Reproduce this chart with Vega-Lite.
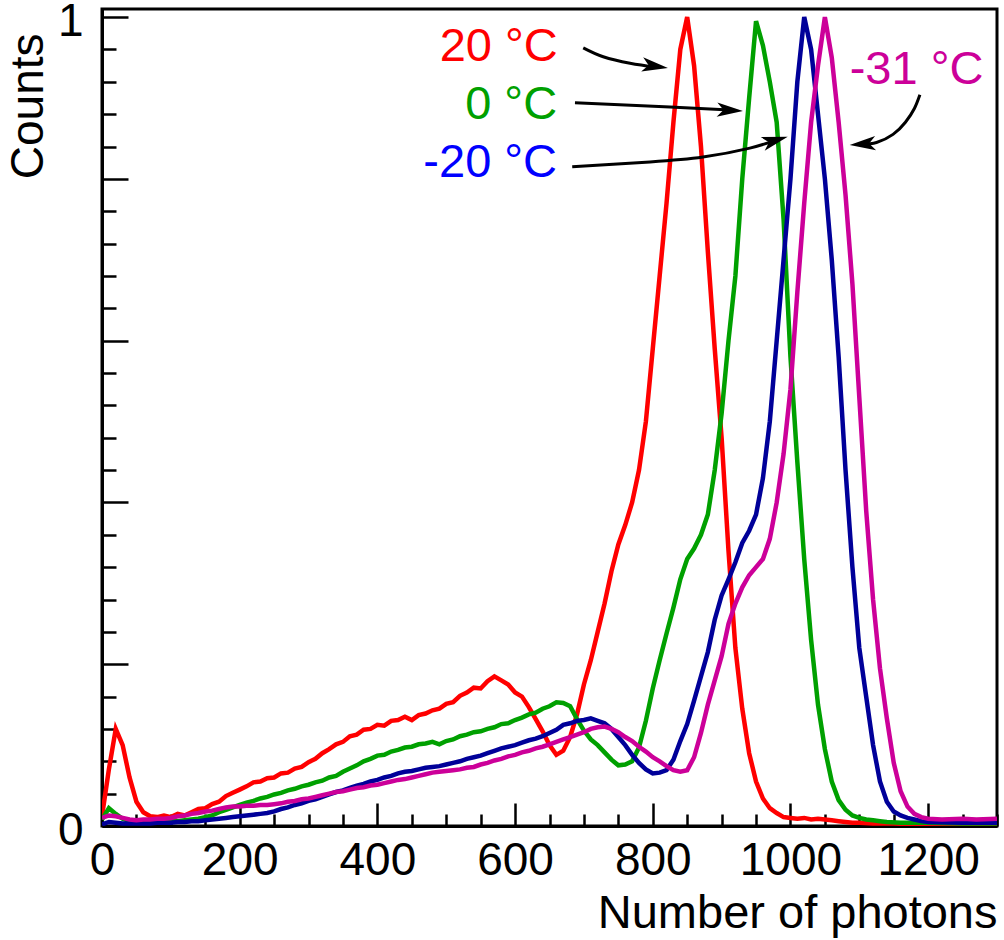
{
"$schema": "https://vega.github.io/schema/vega-lite/v6.json",
"width": 895, "height": 817,
"autosize": "none",
"padding": {"left": 102, "top": 9, "right": 7, "bottom": 114},
"background": "white",
"config": {"view": {"stroke": "black", "strokeWidth": 3}, "font": "Liberation Sans"},
"datasets": {
"red": [{"x":0,"y":0.012},{"x":10,"y":0.07},{"x":20,"y":0.12},{"x":30,"y":0.1},{"x":40,"y":0.06},{"x":50,"y":0.03},{"x":60,"y":0.017},{"x":70,"y":0.012},{"x":80,"y":0.011},{"x":90,"y":0.013},{"x":100,"y":0.011},{"x":110,"y":0.015},{"x":120,"y":0.013},{"x":130,"y":0.017},{"x":140,"y":0.021},{"x":150,"y":0.022},{"x":160,"y":0.027},{"x":170,"y":0.03},{"x":180,"y":0.037},{"x":190,"y":0.041},{"x":200,"y":0.045},{"x":210,"y":0.049},{"x":220,"y":0.054},{"x":230,"y":0.055},{"x":240,"y":0.059},{"x":250,"y":0.06},{"x":260,"y":0.065},{"x":270,"y":0.066},{"x":280,"y":0.071},{"x":290,"y":0.073},{"x":300,"y":0.079},{"x":310,"y":0.083},{"x":320,"y":0.09},{"x":330,"y":0.095},{"x":340,"y":0.101},{"x":350,"y":0.104},{"x":360,"y":0.111},{"x":370,"y":0.113},{"x":380,"y":0.119},{"x":390,"y":0.12},{"x":400,"y":0.125},{"x":410,"y":0.124},{"x":420,"y":0.13},{"x":430,"y":0.131},{"x":440,"y":0.135},{"x":450,"y":0.131},{"x":460,"y":0.137},{"x":470,"y":0.139},{"x":480,"y":0.143},{"x":490,"y":0.145},{"x":500,"y":0.151},{"x":510,"y":0.153},{"x":520,"y":0.161},{"x":530,"y":0.165},{"x":540,"y":0.171},{"x":550,"y":0.17},{"x":560,"y":0.179},{"x":570,"y":0.185},{"x":580,"y":0.18},{"x":590,"y":0.175},{"x":600,"y":0.165},{"x":610,"y":0.16},{"x":620,"y":0.147},{"x":630,"y":0.132},{"x":640,"y":0.117},{"x":650,"y":0.1},{"x":660,"y":0.088},{"x":670,"y":0.093},{"x":680,"y":0.11},{"x":690,"y":0.138},{"x":700,"y":0.175},{"x":710,"y":0.205},{"x":720,"y":0.24},{"x":730,"y":0.275},{"x":740,"y":0.315},{"x":750,"y":0.348},{"x":760,"y":0.372},{"x":770,"y":0.4},{"x":780,"y":0.44},{"x":790,"y":0.5},{"x":800,"y":0.59},{"x":810,"y":0.68},{"x":820,"y":0.77},{"x":830,"y":0.87},{"x":840,"y":0.96},{"x":850,"y":1.0},{"x":860,"y":0.94},{"x":870,"y":0.84},{"x":880,"y":0.71},{"x":890,"y":0.59},{"x":900,"y":0.48},{"x":910,"y":0.34},{"x":920,"y":0.22},{"x":930,"y":0.145},{"x":940,"y":0.09},{"x":950,"y":0.055},{"x":960,"y":0.034},{"x":970,"y":0.022},{"x":980,"y":0.016},{"x":990,"y":0.011},{"x":1000,"y":0.01},{"x":1010,"y":0.009},{"x":1020,"y":0.01},{"x":1030,"y":0.008},{"x":1040,"y":0.009},{"x":1050,"y":0.008},{"x":1060,"y":0.007},{"x":1070,"y":0.006},{"x":1080,"y":0.005},{"x":1090,"y":0.004},{"x":1100,"y":0.004},{"x":1120,"y":0.003},{"x":1150,"y":0.003},{"x":1200,"y":0.002},{"x":1250,"y":0.002},{"x":1300,"y":0.002}],
"green": [{"x":0,"y":0.008},{"x":10,"y":0.022},{"x":20,"y":0.015},{"x":30,"y":0.009},{"x":40,"y":0.006},{"x":50,"y":0.005},{"x":60,"y":0.004},{"x":70,"y":0.004},{"x":80,"y":0.005},{"x":90,"y":0.005},{"x":100,"y":0.006},{"x":110,"y":0.006},{"x":120,"y":0.007},{"x":130,"y":0.008},{"x":140,"y":0.009},{"x":150,"y":0.011},{"x":160,"y":0.013},{"x":170,"y":0.017},{"x":180,"y":0.02},{"x":190,"y":0.023},{"x":200,"y":0.026},{"x":210,"y":0.029},{"x":220,"y":0.031},{"x":230,"y":0.034},{"x":240,"y":0.036},{"x":250,"y":0.039},{"x":260,"y":0.041},{"x":270,"y":0.044},{"x":280,"y":0.046},{"x":290,"y":0.049},{"x":300,"y":0.051},{"x":310,"y":0.054},{"x":320,"y":0.056},{"x":330,"y":0.06},{"x":340,"y":0.062},{"x":350,"y":0.067},{"x":360,"y":0.071},{"x":370,"y":0.075},{"x":380,"y":0.08},{"x":390,"y":0.083},{"x":400,"y":0.087},{"x":410,"y":0.088},{"x":420,"y":0.092},{"x":430,"y":0.094},{"x":440,"y":0.097},{"x":450,"y":0.098},{"x":460,"y":0.101},{"x":470,"y":0.102},{"x":480,"y":0.104},{"x":490,"y":0.101},{"x":500,"y":0.105},{"x":510,"y":0.107},{"x":520,"y":0.111},{"x":530,"y":0.113},{"x":540,"y":0.116},{"x":550,"y":0.117},{"x":560,"y":0.12},{"x":570,"y":0.122},{"x":580,"y":0.126},{"x":590,"y":0.127},{"x":600,"y":0.131},{"x":610,"y":0.134},{"x":620,"y":0.138},{"x":630,"y":0.14},{"x":640,"y":0.145},{"x":650,"y":0.148},{"x":660,"y":0.153},{"x":670,"y":0.152},{"x":680,"y":0.148},{"x":690,"y":0.132},{"x":700,"y":0.118},{"x":710,"y":0.107},{"x":720,"y":0.1},{"x":730,"y":0.091},{"x":740,"y":0.082},{"x":750,"y":0.075},{"x":760,"y":0.076},{"x":770,"y":0.08},{"x":780,"y":0.097},{"x":790,"y":0.13},{"x":800,"y":0.17},{"x":810,"y":0.205},{"x":820,"y":0.238},{"x":830,"y":0.27},{"x":840,"y":0.305},{"x":850,"y":0.33},{"x":860,"y":0.343},{"x":870,"y":0.36},{"x":880,"y":0.385},{"x":890,"y":0.44},{"x":900,"y":0.51},{"x":910,"y":0.6},{"x":920,"y":0.68},{"x":930,"y":0.8},{"x":940,"y":0.9},{"x":950,"y":0.995},{"x":960,"y":0.965},{"x":970,"y":0.92},{"x":980,"y":0.87},{"x":990,"y":0.75},{"x":1000,"y":0.58},{"x":1010,"y":0.45},{"x":1020,"y":0.33},{"x":1030,"y":0.23},{"x":1040,"y":0.15},{"x":1050,"y":0.095},{"x":1060,"y":0.055},{"x":1070,"y":0.032},{"x":1080,"y":0.02},{"x":1090,"y":0.013},{"x":1100,"y":0.01},{"x":1110,"y":0.008},{"x":1120,"y":0.007},{"x":1130,"y":0.006},{"x":1140,"y":0.005},{"x":1160,"y":0.004},{"x":1200,"y":0.004},{"x":1250,"y":0.003},{"x":1300,"y":0.003}],
"blue": [{"x":0,"y":0.002},{"x":10,"y":0.005},{"x":20,"y":0.004},{"x":30,"y":0.003},{"x":40,"y":0.003},{"x":50,"y":0.003},{"x":60,"y":0.003},{"x":70,"y":0.003},{"x":80,"y":0.004},{"x":90,"y":0.004},{"x":100,"y":0.004},{"x":110,"y":0.005},{"x":120,"y":0.005},{"x":130,"y":0.006},{"x":140,"y":0.006},{"x":150,"y":0.007},{"x":160,"y":0.008},{"x":170,"y":0.009},{"x":180,"y":0.01},{"x":190,"y":0.011},{"x":200,"y":0.012},{"x":210,"y":0.013},{"x":220,"y":0.014},{"x":230,"y":0.015},{"x":240,"y":0.016},{"x":250,"y":0.018},{"x":260,"y":0.021},{"x":270,"y":0.023},{"x":280,"y":0.026},{"x":290,"y":0.028},{"x":300,"y":0.031},{"x":310,"y":0.033},{"x":320,"y":0.036},{"x":330,"y":0.039},{"x":340,"y":0.042},{"x":350,"y":0.044},{"x":360,"y":0.047},{"x":370,"y":0.05},{"x":380,"y":0.052},{"x":390,"y":0.055},{"x":400,"y":0.057},{"x":410,"y":0.06},{"x":420,"y":0.062},{"x":430,"y":0.065},{"x":440,"y":0.067},{"x":450,"y":0.068},{"x":460,"y":0.07},{"x":470,"y":0.072},{"x":480,"y":0.073},{"x":490,"y":0.074},{"x":500,"y":0.076},{"x":510,"y":0.078},{"x":520,"y":0.08},{"x":530,"y":0.083},{"x":540,"y":0.085},{"x":550,"y":0.087},{"x":560,"y":0.09},{"x":570,"y":0.093},{"x":580,"y":0.096},{"x":590,"y":0.098},{"x":600,"y":0.1},{"x":610,"y":0.103},{"x":620,"y":0.106},{"x":630,"y":0.108},{"x":640,"y":0.111},{"x":650,"y":0.115},{"x":660,"y":0.119},{"x":670,"y":0.125},{"x":680,"y":0.127},{"x":690,"y":0.13},{"x":700,"y":0.131},{"x":710,"y":0.133},{"x":720,"y":0.13},{"x":730,"y":0.127},{"x":740,"y":0.12},{"x":750,"y":0.11},{"x":760,"y":0.1},{"x":770,"y":0.088},{"x":780,"y":0.078},{"x":790,"y":0.07},{"x":800,"y":0.065},{"x":810,"y":0.066},{"x":820,"y":0.069},{"x":830,"y":0.082},{"x":840,"y":0.105},{"x":850,"y":0.126},{"x":860,"y":0.155},{"x":870,"y":0.185},{"x":880,"y":0.215},{"x":890,"y":0.255},{"x":900,"y":0.285},{"x":910,"y":0.305},{"x":920,"y":0.326},{"x":930,"y":0.35},{"x":940,"y":0.365},{"x":950,"y":0.385},{"x":960,"y":0.43},{"x":970,"y":0.5},{"x":980,"y":0.6},{"x":990,"y":0.7},{"x":1000,"y":0.8},{"x":1010,"y":0.92},{"x":1020,"y":1.0},{"x":1030,"y":0.96},{"x":1040,"y":0.88},{"x":1050,"y":0.8},{"x":1060,"y":0.7},{"x":1070,"y":0.58},{"x":1080,"y":0.44},{"x":1090,"y":0.32},{"x":1100,"y":0.22},{"x":1110,"y":0.16},{"x":1120,"y":0.1},{"x":1130,"y":0.055},{"x":1140,"y":0.03},{"x":1150,"y":0.018},{"x":1160,"y":0.013},{"x":1170,"y":0.01},{"x":1180,"y":0.008},{"x":1190,"y":0.006},{"x":1200,"y":0.005},{"x":1250,"y":0.004},{"x":1300,"y":0.004}],
"magenta": [{"x":0,"y":0.01},{"x":10,"y":0.013},{"x":20,"y":0.012},{"x":30,"y":0.01},{"x":40,"y":0.008},{"x":50,"y":0.007},{"x":60,"y":0.008},{"x":70,"y":0.008},{"x":80,"y":0.009},{"x":90,"y":0.009},{"x":100,"y":0.01},{"x":110,"y":0.012},{"x":120,"y":0.013},{"x":130,"y":0.015},{"x":140,"y":0.016},{"x":150,"y":0.018},{"x":160,"y":0.019},{"x":170,"y":0.021},{"x":180,"y":0.023},{"x":190,"y":0.024},{"x":200,"y":0.024},{"x":210,"y":0.025},{"x":220,"y":0.025},{"x":230,"y":0.026},{"x":240,"y":0.026},{"x":250,"y":0.027},{"x":260,"y":0.028},{"x":270,"y":0.03},{"x":280,"y":0.031},{"x":290,"y":0.033},{"x":300,"y":0.034},{"x":310,"y":0.036},{"x":320,"y":0.038},{"x":330,"y":0.04},{"x":340,"y":0.042},{"x":350,"y":0.043},{"x":360,"y":0.045},{"x":370,"y":0.047},{"x":380,"y":0.048},{"x":390,"y":0.05},{"x":400,"y":0.051},{"x":410,"y":0.053},{"x":420,"y":0.055},{"x":430,"y":0.057},{"x":440,"y":0.058},{"x":450,"y":0.06},{"x":460,"y":0.062},{"x":470,"y":0.064},{"x":480,"y":0.066},{"x":490,"y":0.067},{"x":500,"y":0.068},{"x":510,"y":0.069},{"x":520,"y":0.07},{"x":530,"y":0.072},{"x":540,"y":0.073},{"x":550,"y":0.076},{"x":560,"y":0.078},{"x":570,"y":0.081},{"x":580,"y":0.083},{"x":590,"y":0.086},{"x":600,"y":0.088},{"x":610,"y":0.091},{"x":620,"y":0.093},{"x":630,"y":0.096},{"x":640,"y":0.098},{"x":650,"y":0.101},{"x":660,"y":0.104},{"x":670,"y":0.107},{"x":680,"y":0.11},{"x":690,"y":0.113},{"x":700,"y":0.116},{"x":710,"y":0.12},{"x":720,"y":0.122},{"x":730,"y":0.123},{"x":740,"y":0.12},{"x":750,"y":0.116},{"x":760,"y":0.11},{"x":770,"y":0.105},{"x":780,"y":0.098},{"x":790,"y":0.092},{"x":800,"y":0.085},{"x":810,"y":0.08},{"x":820,"y":0.074},{"x":830,"y":0.069},{"x":840,"y":0.067},{"x":850,"y":0.069},{"x":860,"y":0.085},{"x":870,"y":0.115},{"x":880,"y":0.15},{"x":890,"y":0.18},{"x":900,"y":0.21},{"x":910,"y":0.25},{"x":920,"y":0.275},{"x":930,"y":0.295},{"x":940,"y":0.31},{"x":950,"y":0.32},{"x":960,"y":0.33},{"x":970,"y":0.355},{"x":980,"y":0.4},{"x":990,"y":0.46},{"x":1000,"y":0.54},{"x":1010,"y":0.66},{"x":1020,"y":0.77},{"x":1030,"y":0.87},{"x":1040,"y":0.94},{"x":1050,"y":1.0},{"x":1060,"y":0.95},{"x":1070,"y":0.87},{"x":1080,"y":0.78},{"x":1090,"y":0.67},{"x":1100,"y":0.53},{"x":1110,"y":0.39},{"x":1120,"y":0.28},{"x":1130,"y":0.195},{"x":1140,"y":0.133},{"x":1150,"y":0.078},{"x":1160,"y":0.043},{"x":1170,"y":0.024},{"x":1180,"y":0.015},{"x":1190,"y":0.011},{"x":1200,"y":0.009},{"x":1220,"y":0.008},{"x":1250,"y":0.009},{"x":1270,"y":0.008},{"x":1300,"y":0.009}],
"arrows": [{"a":1,"x":699,"y":0.962},{"a":1,"x":728,"y":0.951},{"a":1,"x":767,"y":0.943},{"a":1,"x":805,"y":0.938},
{"a":2,"x":687,"y":0.894},{"a":2,"x":825,"y":0.889},{"a":2,"x":912,"y":0.885},
{"a":3,"x":683,"y":0.815},{"a":3,"x":796,"y":0.821},{"a":3,"x":873,"y":0.827},{"a":3,"x":941,"y":0.838},{"a":3,"x":979,"y":0.848},
{"a":4,"x":1104,"y":0.843},{"a":4,"x":1125,"y":0.845},{"a":4,"x":1149,"y":0.855},{"a":4,"x":1167,"y":0.87},{"a":4,"x":1180,"y":0.887},{"a":4,"x":1188,"y":0.904}]
},
"encoding": {
"x": {"field": "x", "type": "quantitative", "scale": {"domain": [0, 1300], "nice": false, "zero": false},
 "axis": {"title": "Number of photons", "values": [0,50,100,150,200,250,300,350,400,450,500,550,600,650,700,750,800,850,900,950,1000,1050,1100,1150,1200,1250,1300],
  "format": "d", "labelExpr": "datum.value % 200 === 0 ? datum.label : ''", "labelOverlap": false, "labelFlush": false,
  "labelFont": "Liberation Sans", "labelFontSize": 46, "labelColor": "black", "labelPadding": 12, "labelBaseline": "top",
  "tickSize": 0, "tickColor": "black", "tickWidth": 2.5, "domainColor": "black", "domainWidth": 3, "grid": false,
  "titleFont": "Liberation Sans", "titleFontSize": 47, "titleFontWeight": "normal", "titleColor": "black",
  "titleAnchor": "end", "titleAlign": "right", "titleBaseline": "alphabetic", "titleX": 895, "titleY": 101,
  "encoding": {"ticks": {"y2": {"condition": {"test": "datum.value % 200 === 0", "value": -23}, "value": -12}}}}},
"y": {"field": "y", "type": "quantitative", "scale": {"domain": [0, 1.01], "nice": false, "zero": false},
 "axis": {"title": "Counts", "values": [0,0.04,0.08,0.12,0.16,0.2,0.24,0.28,0.32,0.36,0.4,0.44,0.48,0.52,0.56,0.6,0.64,0.68,0.72,0.76,0.8,0.84,0.88,0.92,0.96,1],
  "format": "~g", "labelExpr": "datum.value === 0 || datum.value === 1 ? datum.label : ''", "labelOverlap": false, "labelFlush": false,
  "labelFont": "Liberation Sans", "labelFontSize": 46, "labelColor": "black", "labelPadding": 19, "labelAlign": "right", "labelBaseline": "middle", "labelOffset": 4,
  "tickSize": 0, "tickColor": "black", "tickWidth": 2.5, "domainColor": "black", "domainWidth": 3, "grid": false,
  "titleFont": "Liberation Sans", "titleFontSize": 46, "titleFontWeight": "normal", "titleColor": "black",
  "titleAngle": -90, "titleAnchor": "end", "titleAlign": "right", "titleBaseline": "alphabetic", "titleX": -60, "titleY": 24,
  "encoding": {"ticks": {"x2": {"condition": {"test": "abs(datum.value*5 - round(datum.value*5)) < 0.000001", "value": 26}, "value": 14}}}}}
},
"layer": [
{"data": {"name": "red"}, "mark": {"type": "line", "color": "#ff0000", "strokeWidth": 4.5, "clip": true}},
{"data": {"name": "green"}, "mark": {"type": "line", "color": "#00a000", "strokeWidth": 4.5, "clip": true}},
{"data": {"name": "blue"}, "mark": {"type": "line", "color": "#000099", "strokeWidth": 4.5, "clip": true}},
{"data": {"name": "magenta"}, "mark": {"type": "line", "color": "#cc0099", "strokeWidth": 4.5, "clip": true}},
{"data": {"name": "arrows"}, "mark": {"type": "line", "color": "black", "strokeWidth": 3, "interpolate": "natural"}, "encoding": {"detail": {"field": "a"}}},
{"data": {"values": [{"x": 822, "y": 0.937}]}, "mark": {"type": "point", "shape": "M0,0L-2,-0.55L-1.5,0L-2,0.55Z", "filled": true, "color": "black", "opacity": 1, "size": 676, "angle": 8, "strokeWidth": 0}},
{"data": {"values": [{"x": 931, "y": 0.884}]}, "mark": {"type": "point", "shape": "M0,0L-2,-0.55L-1.5,0L-2,0.55Z", "filled": true, "color": "black", "opacity": 1, "size": 676, "angle": 3, "strokeWidth": 0}},
{"data": {"values": [{"x": 996, "y": 0.852}]}, "mark": {"type": "point", "shape": "M0,0L-2,-0.55L-1.5,0L-2,0.55Z", "filled": true, "color": "black", "opacity": 1, "size": 676, "angle": 344, "strokeWidth": 0}},
{"data": {"values": [{"x": 1086, "y": 0.842}]}, "mark": {"type": "point", "shape": "M0,0L-2,-0.55L-1.5,0L-2,0.55Z", "filled": true, "color": "black", "opacity": 1, "size": 676, "angle": 176, "strokeWidth": 0}},
{"data": {"values": [{"x": 662, "y": 0.963, "t": "20 °C"}]}, "mark": {"type": "text", "align": "right", "baseline": "middle", "fontSize": 47, "font": "Liberation Sans", "color": "#ff0000"}, "encoding": {"text": {"field": "t"}}},
{"data": {"values": [{"x": 661, "y": 0.891, "t": "0 °C"}]}, "mark": {"type": "text", "align": "right", "baseline": "middle", "fontSize": 47, "font": "Liberation Sans", "color": "#00a000"}, "encoding": {"text": {"field": "t"}}},
{"data": {"values": [{"x": 661, "y": 0.82, "t": "-20 °C"}]}, "mark": {"type": "text", "align": "right", "baseline": "middle", "fontSize": 47, "font": "Liberation Sans", "color": "#0000ff"}, "encoding": {"text": {"field": "t"}}},
{"data": {"values": [{"x": 1086, "y": 0.935, "t": "-31 °C"}]}, "mark": {"type": "text", "align": "left", "baseline": "middle", "fontSize": 47, "font": "Liberation Sans", "color": "#cc0099"}, "encoding": {"text": {"field": "t"}}}
]
}
